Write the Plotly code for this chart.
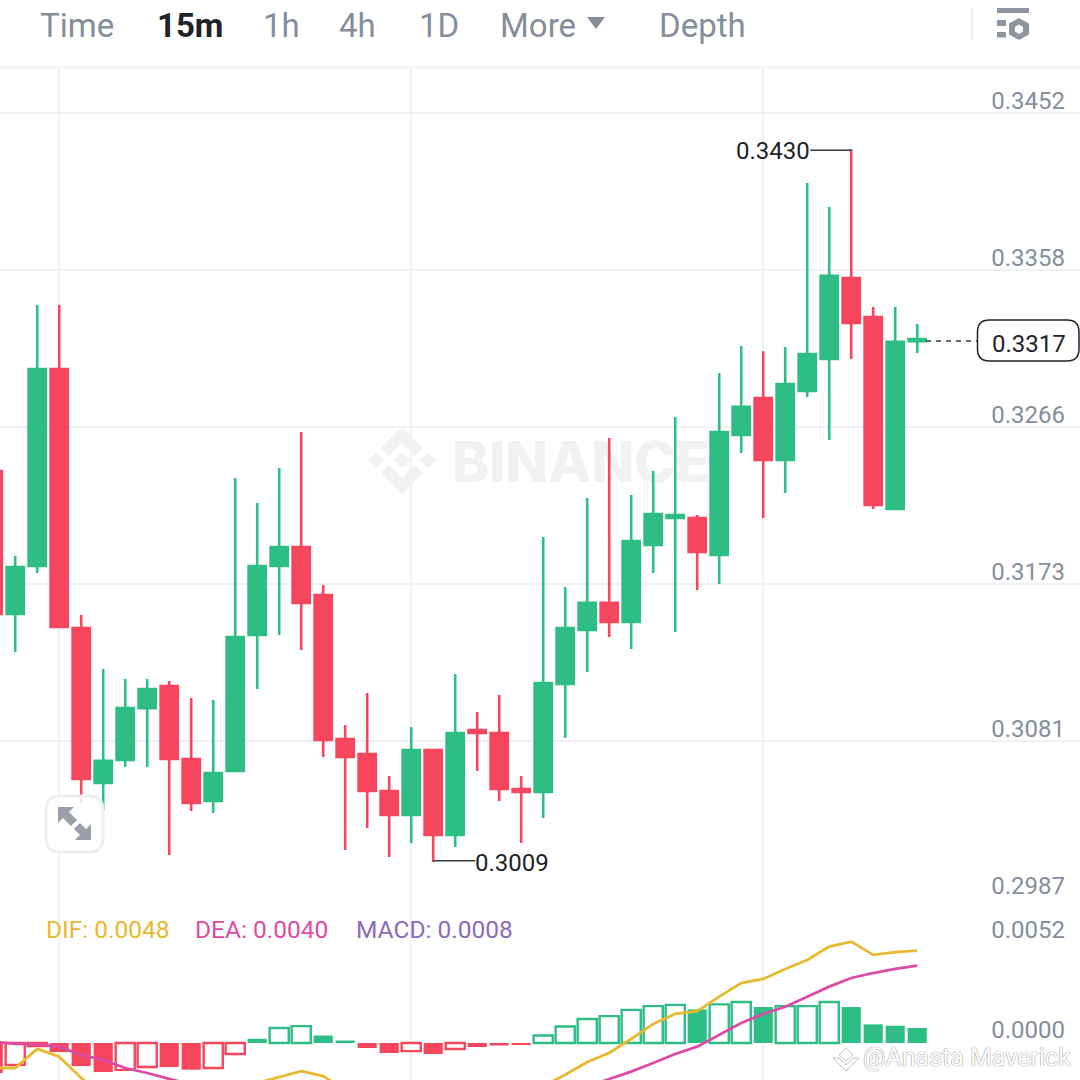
import plotly.graph_objects as go

# ---------- data ----------
candle_x = list(range(43))
high = [.32399,.31896,.33383,.33383,.31546,.31227,.31167,.31167,.31155,.31055,.31043,.32358,.32210,.32417,.32630,.31724,.30895,.31084,.30593,.30883,.30747,.31197,.30972,.31073,.30593,.32008,.31712,.32239,.32595,.32257,.32399,.32719,.32139,.32980,.33140,.33109,.33134,.34105,.33963,.34307,.33371,.33371,.33270]
open_ = [.32399,.31552,.31837,.33004,.31469,.30551,.30688,.30995,.31126,.30693,.30445,.30622,.31428,.31837,.31949,.31665,.30812,.30723,.30504,.30362,.30747,.30243,.30865,.30847,.30516,.30498,.31138,.31458,.31618,.31505,.31961,.32121,.32121,.31902,.32613,.32832,.32465,.32873,.33063,.33543,.33312,.32174,.33169]
close = [.31552,.31831,.33004,.31475,.30575,.30682,.30995,.31108,.30693,.30433,.30610,.31416,.31837,.31949,.31618,.30806,.30705,.30504,.30362,.30747,.30243,.30847,.30847,.30516,.30498,.31144,.31469,.31618,.31505,.31985,.32145,.32139,.31920,.32630,.32779,.32465,.32915,.33092,.33555,.33276,.32198,.33164,.33181]
low = [.31552,.31327,.31795,.31475,.30433,.30391,.30646,.30646,.30125,.30385,.30373,.30622,.31108,.31428,.31339,.30705,.30154,.30285,.30113,.30196,.30083,.30172,.30622,.30445,.30196,.30344,.30818,.31209,.31416,.31345,.31795,.31446,.31695,.31730,.32506,.32121,.32269,.32838,.32583,.33063,.32174,.32174,.33098]
macd = [-.00156,-.00114,-.00016,-.00047,-.00120,-.00151,-.00140,-.00125,-.00125,-.00139,-.00130,-.00057,.00022,.00078,.00088,.00039,.00013,-.00026,-.00052,-.00042,-.00057,-.00031,-.00021,-.00013,-.00010,.00039,.00086,.00125,.00140,.00172,.00192,.00198,.00175,.00201,.00213,.00187,.00192,.00192,.00213,.00187,.00097,.00090,.00078]
hollow = [0,1,1,0,0,0,1,1,0,0,1,1,0,1,1,0,0,0,0,1,0,1,0,0,0,1,1,1,1,1,1,1,0,1,1,0,1,1,1,0,0,0,0]
dif = [-.00130,-.00130,-.00031,-.00071,-.00182,-.00270,-.00322,-.00359,-.00374,-.00348,-.00296,-.00244,-.00208,-.00177,-.00146,-.00172,-.00244,-.00286,-.00322,-.00348,-.00374,-.00359,-.00348,-.00338,-.00322,-.00224,-.00165,-.00099,-.00052,.00021,.00099,.00151,.00166,.00241,.00312,.00333,.00385,.00432,.00501,.00527,.00458,.00473,.00480]
dea = [.00007,-.00005,-.00007,-.00019,-.00062,-.00088,-.00130,-.00156,-.00187,-.00218,-.00244,-.00260,-.00270,-.00265,-.00260,-.00260,-.00265,-.00276,-.00286,-.00296,-.00302,-.00307,-.00312,-.00312,-.00312,-.00296,-.00265,-.00229,-.00187,-.00149,-.00104,-.00057,-.00019,.00042,.00104,.00151,.00189,.00241,.00293,.00338,.00364,.00385,.00402]
price_ticks = [.2987, .3080, .3173, .3266, .3359, .3452]
price_tick_labels = ["0.2987", "0.3081", "0.3173", "0.3266", "0.3358", "0.3452"]
macd_ticks = [0, .0052]
macd_tick_labels = ["0.0000", "0.0052"]
time_grid = [3, 19, 35]
tabs = ["Time", "15m", "1h", "4h", "1D", "More", "Depth"]
tab_left = [38, 155, 261, 337, 417, 498, 657]
legend_items = ["DIF: 0.0048", "DEA: 0.0040", "MACD: 0.0008"]
legend_left = [44, 193, 354]
period_high = .3430
period_low = .3009
last_price = .3317

GREEN, RED = "#2ebd85", "#f6465d"
GREY = "#848e9c"; DARK = "#1e2329"; GRID = "#f0f1f2"
YEL, MAG, PUR = "#e8b92e", "#dc4ba6", "#8c6bb8"
FONT = "Roboto"

def px(x): return x / 1080
def py(y): return 1 - y / 1080

fig = go.Figure()
fig.add_trace(go.Candlestick(
    x=candle_x, open=open_, high=high, low=low, close=close,
    increasing=dict(line=dict(color=GREEN, width=2.6), fillcolor=GREEN),
    decreasing=dict(line=dict(color=RED, width=2.6), fillcolor=RED),
    whiskerwidth=0, xaxis="x", yaxis="y", showlegend=False, hoverinfo="skip"))
bar_line = [GREEN if v >= 0 else RED for v in macd]
bar_fill = ["#ffffff" if h else c for h, c in zip(hollow, bar_line)]
fig.add_trace(go.Bar(
    x=candle_x, y=macd, width=0.87,
    marker=dict(color=bar_fill, line=dict(color=bar_line, width=[2.4 if h else 0 for h in hollow])),
    xaxis="x2", yaxis="y2", showlegend=False, hoverinfo="skip"))
fig.add_trace(go.Scatter(x=candle_x, y=dif, mode="lines", line=dict(color=YEL, width=2.8),
                         xaxis="x2", yaxis="y2", showlegend=False, hoverinfo="skip"))
fig.add_trace(go.Scatter(x=candle_x, y=dea, mode="lines", line=dict(color=MAG, width=2.8),
                         xaxis="x2", yaxis="y2", showlegend=False, hoverinfo="skip"))

x_range = [6.8 / 22, 1086.8 / 22]
xcommon = dict(range=x_range, tickmode="array", tickvals=time_grid, showticklabels=False,
               showgrid=True, gridcolor=GRID, gridwidth=1.5, zeroline=False, ticks="",
               showline=False, fixedrange=True)
shapes = []
def rect(x0, y0, x1, y1, fill, line=None, lw=0, layer="above"):
    shapes.append(dict(type="rect", xref="paper", yref="paper", x0=px(x0), x1=px(x1), y0=py(y0), y1=py(y1),
                       fillcolor=fill, line=dict(color=line or fill, width=lw), layer=layer))
def path(points, fill, line=None, lw=0, layer="above", close_path=True):
    d = "M" + " L".join(f"{px(a):.5f},{py(b):.5f}" for a, b in points) + (" Z" if close_path else "")
    shapes.append(dict(type="path", xref="paper", yref="paper", path=d, fillcolor=fill,
                       line=dict(color=line or fill, width=lw), layer=layer))
def rounded(x0, y0, x1, y1, r, fill, line, lw, layer="above"):
    X0, X1, Y0, Y1 = px(x0), px(x1), py(y0), py(y1)
    rx, ry = r / 1080, r / 1080
    d = (f"M{X0+rx:.5f},{Y0:.5f} L{X1-rx:.5f},{Y0:.5f} Q{X1:.5f},{Y0:.5f} {X1:.5f},{Y0-ry:.5f} "
         f"L{X1:.5f},{Y1+ry:.5f} Q{X1:.5f},{Y1:.5f} {X1-rx:.5f},{Y1:.5f} L{X0+rx:.5f},{Y1:.5f} "
         f"Q{X0:.5f},{Y1:.5f} {X0:.5f},{Y1+ry:.5f} L{X0:.5f},{Y0-ry:.5f} Q{X0:.5f},{Y0:.5f} {X0+rx:.5f},{Y0:.5f} Z")
    shapes.append(dict(type="path", xref="paper", yref="paper", path=d, fillcolor=fill,
                       line=dict(color=line, width=lw), layer=layer))

# header chrome
rect(0, 66, 1080, 69, "#f5f6f6", layer="below")
path([(587, 17), (605, 17), (596, 29)], GREY)
rect(971, 8, 973, 40, "#eceded")
ICON = "#8d95a1"
rect(997, 8, 1029, 13, ICON)
rect(997, 20, 1006, 26, ICON)
rect(997, 32, 1006, 37.5, ICON)
path([(1019, 18), (1029, 23.5), (1029, 34.5), (1019, 40), (1009, 34.5), (1009, 23.5)], ICON)
path([(1019, 24.5), (1023, 27), (1023, 31.5), (1019, 34), (1015, 31.5), (1015, 27)], "#ffffff")

# watermark logo (under the candles)
WM = "#f1f1f2"
def diamond(cx, cy, r, color, layer="below"):
    path([(cx - r, cy), (cx, cy - r), (cx + r, cy), (cx, cy + r)], color, layer=layer)
diamond(402, 460.5, 8, WM)
diamond(376, 460.5, 8, WM)
diamond(428, 460.5, 8, WM)
path([(402, 427), (423, 448), (415, 456), (402, 443), (389, 456), (381, 448)], WM, layer="below")
path([(402, 494), (423, 473), (415, 465), (402, 478), (389, 465), (381, 473)], WM, layer="below")
shapes.append(dict(type="rect", xref="paper", yref="paper", x0=px(440), x1=px(722), y0=py(490), y1=py(430),
                   line=dict(width=0), fillcolor="rgba(0,0,0,0)", layer="below",
                   label=dict(text="BINANCE", font=dict(family="Inter", size=56, color=WM, weight=800),
                              textposition="middle center")))

# expand button
rounded(46, 796, 103, 852, 14, "rgba(255,255,255,0.85)", "#eeeff0", 3)
BTN = "#9a9fa9"
path([(58, 807), (74, 807), (69, 812), (77, 820), (71, 826), (63, 818), (58, 823)], BTN)
path([(91, 840), (75, 840), (80, 835), (74, 829), (80, 823), (86, 829), (91, 824)], BTN)

# high/low leader lines and last-price tag
shapes.append(dict(type="line", xref="x", yref="y", x0=39, x1=39 - 41 / 22, y0=period_high, y1=period_high,
                   line=dict(color="#333a40", width=1.5)))
shapes.append(dict(type="line", xref="x", yref="y", x0=20, x1=20 + 42 / 22, y0=period_low, y1=period_low,
                   line=dict(color="#333a40", width=1.5)))
shapes.append(dict(type="line", xref="x", yref="y", x0=42.4, x1=984 / 22 + 0.32, y0=last_price, y1=last_price,
                   line=dict(color="#333a40", width=1.5, dash="5px,5px")))
rounded(977.5, 320, 1079, 361, 12, "#ffffff", DARK, 1.5)

# small signature logo
SIG = "#c4c4c4"
path([(833, 1058), (846, 1071), (859, 1058), (853, 1058), (846, 1065), (839, 1058)], "#ffffff", SIG, 1)
path([(846, 1048), (853, 1055), (846, 1061), (839, 1055)], "#ffffff", SIG, 1)

ann = []
for t, x in zip(tabs, tab_left):
    active = t == "15m"
    ann.append(dict(text=t, xref="paper", yref="paper", x=px(x), y=py(26), xanchor="left", yanchor="middle",
                    showarrow=False, font=dict(family=FONT, size=33, color=DARK if active else GREY,
                                               weight=700 if active else 400)))
for t, x, c in zip(legend_items, legend_left, [YEL, MAG, PUR]):
    ann.append(dict(text=t, xref="paper", yref="paper", x=px(x), y=py(929), xanchor="left", yanchor="middle",
                    showarrow=False, font=dict(family=FONT, size=24.5, color=c)))
ann.append(dict(text=f"{period_high:.4f}", xref="paper", yref="y", x=px(811.5), y=period_high, xanchor="right",
                yanchor="middle", yshift=-1, showarrow=False, font=dict(family=FONT, size=24, color=DARK)))
ann.append(dict(text=f"{period_low:.4f}", xref="paper", yref="y", x=px(473), y=period_low, xanchor="left",
                yanchor="middle", yshift=-2, showarrow=False, font=dict(family=FONT, size=24, color=DARK)))
ann.append(dict(text=f"{last_price:.4f}", xref="paper", yref="paper", x=px(1068), y=py(344), xanchor="right",
                yanchor="middle", showarrow=False, font=dict(family=FONT, size=24, color=DARK)))
ann.append(dict(text="@Anasta Maverick", xref="paper", yref="paper", x=px(1073), y=py(1057), xanchor="right",
                yanchor="middle", showarrow=False,
                font=dict(family=FONT, size=25, color="#ffffff", shadow="0 0 1px #888, 0 0 1px #888")))

fig.update_layout(
    width=1080, height=1080, margin=dict(l=0, r=0, t=0, b=0),
    paper_bgcolor="#ffffff", plot_bgcolor="#ffffff", boxgap=0.22, boxgroupgap=0, bargap=0.1,
    font=dict(family=FONT), shapes=shapes, annotations=ann, showlegend=False,
    xaxis=dict(domain=[0, 1], anchor="y", rangeslider=dict(visible=False), **xcommon),
    xaxis2=dict(domain=[0, 1], anchor="y2", **xcommon),
    yaxis=dict(domain=[py(898), py(69)], range=[.2987, .2987 + 829 * 5.9236e-5], side="right",
               tickmode="array", tickvals=price_ticks, ticktext=price_tick_labels,
               ticklabelposition="inside top", ticklabeloverflow="hide past div", ticklabelstandoff=12,
               ticklabelshift=4, ticks="", showline=False, automargin=False,
               showgrid=True, gridcolor=GRID, gridwidth=1.5, zeroline=False, fixedrange=True,
               tickfont=dict(family=FONT, size=24, color=GREY)),
    yaxis2=dict(domain=[0, py(898)], range=[-37 * 5.2e-5, 145 * 5.2e-5], side="right",
                tickmode="array", tickvals=macd_ticks, ticktext=macd_tick_labels,
                ticklabelposition="inside top", ticklabeloverflow="hide past div", ticklabelstandoff=12,
                ticklabelshift=3, ticks="", showline=False, automargin=False,
                showgrid=False, zeroline=False, fixedrange=True,
                tickfont=dict(family=FONT, size=24, color=GREY)),
)
fig.write_html("out.html", config=dict(displayModeBar=False),
               post_script="document.body.style.margin='0';document.body.style.overflow='hidden';")
